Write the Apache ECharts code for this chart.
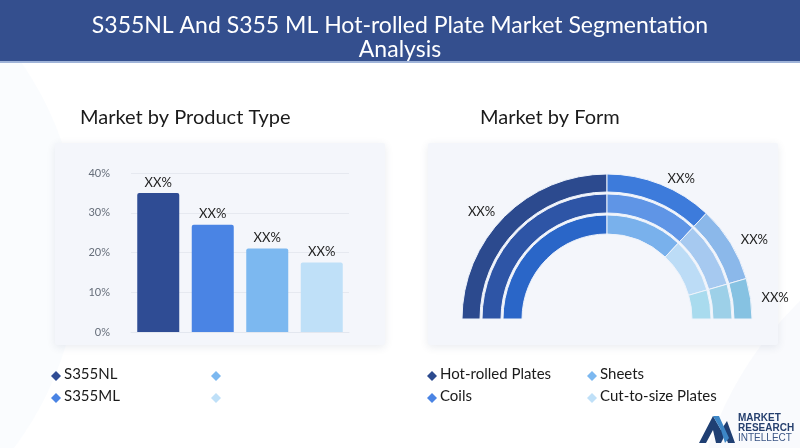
<!DOCTYPE html>
<html><head><meta charset="utf-8">
<script src="https://cdn.jsdelivr.net/npm/echarts@6/dist/echarts.min.js"></script>
<style>html,body{margin:0;padding:0;background:#fff}#c{width:800px;height:448px}</style>
</head><body><div id="c"></div>
<script>
// ---- data ----
const titleText = 'S355NL And S355 ML Hot-rolled Plate Market Segmentation\nAnalysis';
const leftTitle = 'Market by Product Type';
const rightTitle = 'Market by Form';
const productTypes = ['S355NL', 'S355ML', '', ''];
const productValues = [35, 27, 21, 17.5];
const productLabels = ['XX%', 'XX%', 'XX%', 'XX%'];
const yTicks = [0, 10, 20, 30, 40];
const forms = ['Hot-rolled Plates', 'Coils', 'Sheets', 'Cut-to-size Plates'];
const formValues = [50, 24, 17, 9];
const formLabels = ['XX%', 'XX%', 'XX%', 'XX%'];

// ---- styles ----
const barColors = ['#2f4c94', '#4a84e4', '#7cb8f0', '#bfe0f8'];
const ringColors = [
  ['#2c4a8e', '#3d7bdb', '#8bb8ea', '#86c2e2'],
  ['#2e55a6', '#5f95e6', '#a6c9f0', '#9dd0e8'],
  ['#2a66c8', '#79b1ec', '#bcdcf6', '#a9dbee']
];
const ringRadii = [[127, 145], [106, 125], [85, 104]];
const legendColorsLeft = barColors;
const legendColorsRight = ['#2c4a8e', '#4a84e4', '#7cb8f0', '#bfe0f8'];
const FONT = 'Lato, "Open Sans", sans-serif';

const chart = echarts.init(document.getElementById('c'), null, {renderer: 'canvas'});
const total = formValues.reduce((a, b) => a + b, 0);

function ringSeries(idx) {
  const data = forms.map((n, i) => ({
    name: n, value: formValues[i],
    itemStyle: {color: ringColors[idx][i]},
    label: idx === 0 ? {show: true, formatter: formLabels[i]} : {show: false}
  }));
  data.push({name: '_filler', value: total, itemStyle: {color: 'rgba(0,0,0,0)', borderWidth: 0}, label: {show: false}, emphasis: {disabled: true}, tooltip: {show: false}});
  return {
    type: 'pie', center: [607, 319], radius: ringRadii[idx], startAngle: 180, clockwise: true,
    avoidLabelOverlap: false, silent: true, z: 5,
    itemStyle: {borderColor: '#eef3fb', borderWidth: 1},
    label: {position: 'outside', color: '#222', fontSize: 13, fontFamily: FONT},
    labelLine: {show: false, length: 6, length2: 0},
    data: data
  };
}

const graphics = [];
// subtle background swooshes
graphics.push({type: 'circle', shape: {cx: -250, cy: 250, r: 330}, style: {fill: 'rgba(230,236,248,0.18)'}, silent: true, z: -20});
graphics.push({type: 'circle', shape: {cx: 1050, cy: 560, r: 360}, style: {fill: 'rgba(230,236,248,0.25)'}, silent: true, z: -20});
// header
graphics.push({type: 'rect', shape: {x: 0, y: 0, width: 800, height: 62}, style: {fill: '#344f8e'}, z: -5});
graphics.push({type: 'rect', shape: {x: 0, y: 61, width: 800, height: 2}, style: {fill: '#9fb3d8'}, z: -5});
// cards
graphics.push({type: 'rect', shape: {x: 55, y: 143, width: 330, height: 202, r: 2}, style: {fill: '#f4f6fb', shadowBlur: 8, shadowColor: 'rgba(40,60,100,0.10)', shadowOffsetY: 2}, z: -10});
graphics.push({type: 'rect', shape: {x: 428, y: 143, width: 350, height: 202, r: 2}, style: {fill: '#f4f6fb', shadowBlur: 8, shadowColor: 'rgba(40,60,100,0.10)', shadowOffsetY: 2}, z: -10});
// subtitles
graphics.push({type: 'text', left: 80, top: 108, style: {text: leftTitle, fill: '#1a1a1a', font: '20px ' + FONT}});
graphics.push({type: 'text', left: 480, top: 108, style: {text: rightTitle, fill: '#1a1a1a', font: '20px ' + FONT}});

function diamond(cx, cy, color) {
  return {type: 'polygon', shape: {points: [[cx, cy - 5], [cx + 5, cy], [cx, cy + 5], [cx - 5, cy]]}, style: {fill: color}, z: 10};
}
// left legend
const lPos = [[56, 376], [56, 398], [216, 376], [216, 398]];
productTypes.forEach((n, i) => {
  graphics.push(diamond(lPos[i][0], lPos[i][1], legendColorsLeft[i]));
  if (n) graphics.push({type: 'text', left: lPos[i][0] + 8, top: lPos[i][1] - 9, style: {text: n, fill: '#1a1a1a', font: '15px ' + FONT}, z: 10});
});
// right legend
const rPos = [[432, 376], [432, 398], [592, 376], [592, 398]];
forms.forEach((n, i) => {
  graphics.push(diamond(rPos[i][0], rPos[i][1], legendColorsRight[i]));
  graphics.push({type: 'text', left: rPos[i][0] + 8, top: rPos[i][1] - 9, style: {text: n, fill: '#1a1a1a', font: '15px ' + FONT}, z: 10});
});
// logo
graphics.push({type: 'polygon', shape: {points: [[699, 443], [713, 416], [721, 430], [727, 421], [735, 443], [728, 443], [725, 435], [721, 443], [716, 443], [713, 430], [706, 443]]}, style: {fill: '#1f3f73'}, z: 10});
graphics.push({type: 'polygon', shape: {points: [[713, 416], [719, 416], [729, 438], [725, 443], [721, 430]]}, style: {fill: '#3d86c6'}, z: 11});
graphics.push({type: 'text', left: 738, top: 413, style: {text: 'MARKET', fill: '#253f6e', font: 'bold 10px "Liberation Sans", sans-serif'}, z: 10});
graphics.push({type: 'text', left: 738, top: 423, style: {text: 'RESEARCH', fill: '#253f6e', font: 'bold 10px "Liberation Sans", sans-serif'}, z: 10});
graphics.push({type: 'text', left: 738, top: 433, style: {text: 'INTELLECT', fill: '#3a5585', font: '10px "Liberation Sans", sans-serif'}, z: 10});

const option = {
  backgroundColor: '#ffffff',
  animation: false,
  title: {
    text: titleText, left: 'center', top: 9,
    textStyle: {color: '#ffffff', fontSize: 23, fontWeight: 'normal', fontFamily: FONT, lineHeight: 24}
  },
  grid: {left: 131, width: 218, top: 173, bottom: 116},
  xAxis: {
    type: 'category', data: productTypes.map((n, i) => n || ('c' + i)),
    axisLine: {lineStyle: {color: '#e3e7ef'}}, axisTick: {show: false}, axisLabel: {show: false}
  },
  yAxis: {
    type: 'value', min: yTicks[0], max: yTicks[yTicks.length - 1], interval: 10,
    axisLabel: {formatter: '{value}%', color: '#666e7a', fontSize: 11, margin: 21, fontFamily: FONT},
    axisLine: {show: false}, axisTick: {show: false},
    splitLine: {lineStyle: {color: '#e6e9f0'}}
  },
  series: [
    {
      type: 'bar', barWidth: 42, silent: true, z: 5,
      data: productValues.map((v, i) => ({value: v, itemStyle: {color: barColors[i], borderRadius: [2, 2, 0, 0]}})),
      label: {show: true, position: 'top', distance: 4, color: '#222', fontSize: 13, fontFamily: FONT, formatter: p => productLabels[p.dataIndex]}
    },
    ringSeries(0), ringSeries(1), ringSeries(2)
  ],
  graphic: graphics
};
chart.setOption(option);
</script></body></html>
